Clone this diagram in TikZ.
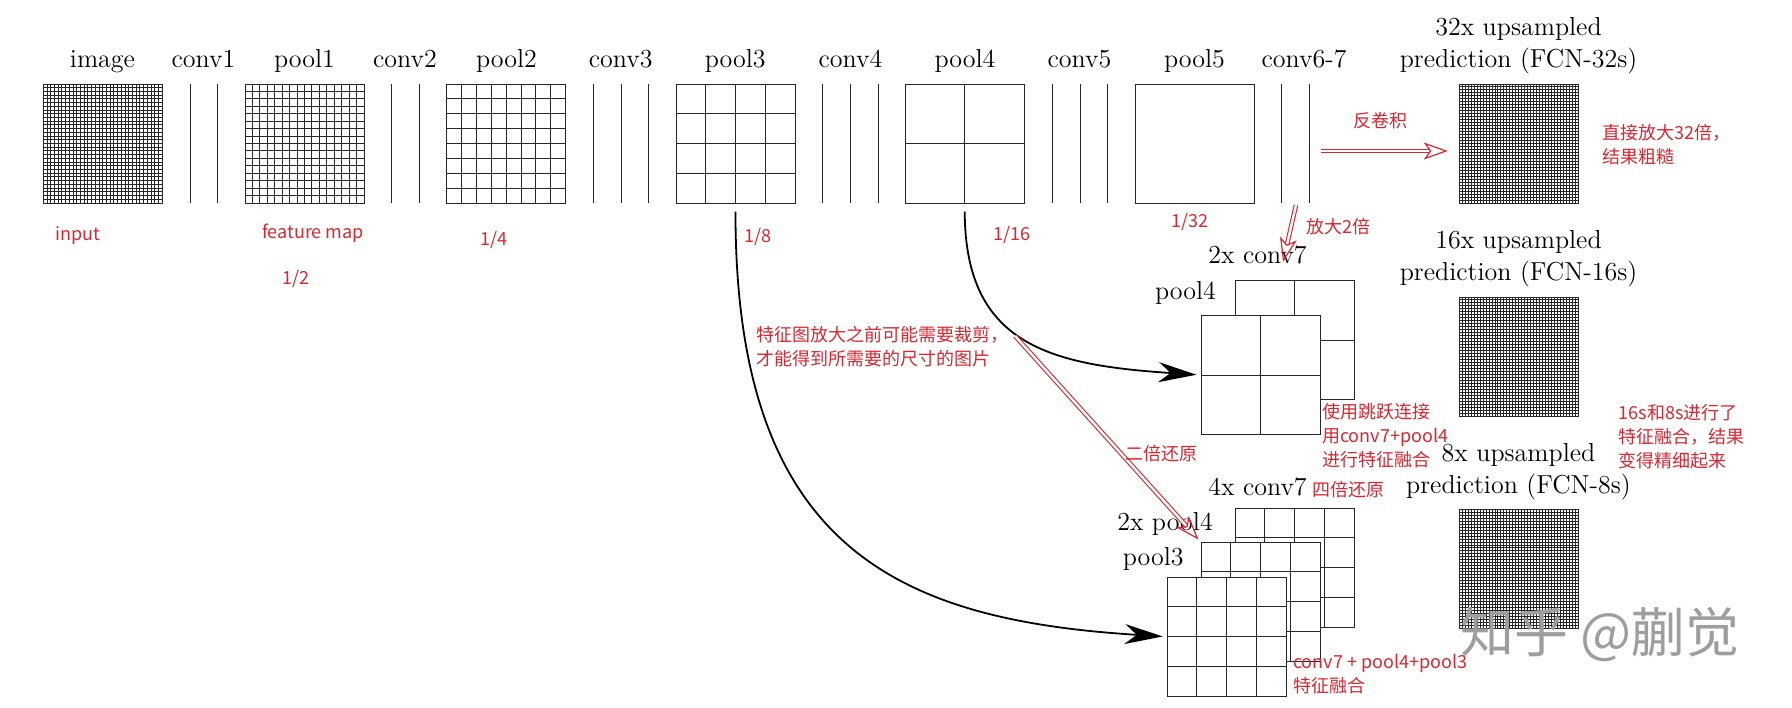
\documentclass[tikz,border=0pt]{standalone}
\usepackage{fontspec}
\newfontfamily\cjk{Noto Sans CJK SC}
\usetikzlibrary{arrows.meta,calc}
\definecolor{anno}{RGB}{218,38,48}
\begin{document}
\begin{tikzpicture}[x=0.5pt,y=-0.5pt,
  lbl/.style={font=\fontsize{13}{15}\selectfont, anchor=base, inner sep=0pt},
  note/.style={font=\cjk\fontsize{9}{12}\selectfont, text=anno, inner sep=0pt, align=left},
  fmap/.style={draw=black!85, line width=0.5pt, fill=white, minimum width=59.5pt, minimum height=59.5pt, inner sep=0pt,
    path picture={
      \foreach \k in {1,...,#1}{
        \draw[black!85, line width=0.5pt]
          ($(path picture bounding box.north west)!{\k/#1}!(path picture bounding box.north east)$) --
          ($(path picture bounding box.south west)!{\k/#1}!(path picture bounding box.south east)$);
        \draw[black!85, line width=0.5pt]
          ($(path picture bounding box.north west)!{\k/#1}!(path picture bounding box.south west)$) --
          ($(path picture bounding box.north east)!{\k/#1}!(path picture bounding box.south east)$);
      }}},
  convline/.style={line width=0.5pt, black!85},
  skipcurve/.style={line width=0.9pt, -{Stealth[length=19pt,width=10pt,inset=6pt]}},
  dblarrow/.style={draw=anno, double=white, double distance=1.2pt, line width=0.55pt,
    -{Stealth[open, length=12pt, width=8.5pt, inset=3pt, line width=0.6pt]}},
]
\useasboundingbox (0,0) rectangle (1792,707);

% ---------- top row labels ----------
\node[lbl] (l-image) at (102.5,67.5) {image};
\node[lbl] (l-conv1) at (203.5,67.5) {conv1};
\node[lbl] (l-pool1) at (304.5,67.5) {pool1};
\node[lbl] (l-conv2) at (405,67.5) {conv2};
\node[lbl] (l-pool2) at (506.5,67.5) {pool2};
\node[lbl] (l-conv3) at (620.7,67.5) {conv3};
\node[lbl] (l-pool3) at (735.3,67.5) {pool3};
\node[lbl] (l-conv4) at (850.5,67.5) {conv4};
\node[lbl] (l-pool4) at (965,67.5) {pool4};
\node[lbl] (l-conv5) at (1079.5,67.5) {conv5};
\node[lbl] (l-pool5) at (1194.5,67.5) {pool5};
\node[lbl] (l-conv67) at (1304,67.5) {conv6-7};
\node[lbl] (l-32a) at (1518.5,35) {32x upsampled};
\node[lbl] (l-32b) at (1518.5,67.5) {prediction (FCN-32s)};

% ---------- top row feature maps ----------
\node[fmap=32] (img)   at (102.8,143.5) {};
\node[fmap=16] (pool1) at (304.5,143.5) {};
\node[fmap=8]  (pool2) at (506.2,143.5) {};
\node[fmap=4]  (pool3) at (735.5,143.5) {};
\node[fmap=2]  (pool4) at (964.7,143.5) {};
\node[fmap=1]  (pool5) at (1194.5,143.5) {};
\node[fmap=40] (p32)   at (1518.8,143.5) {};

% conv layers
\foreach \x in {190,217.3,391.7,419,593.3,621,648.3,822.7,850.7,878,1052.3,1080,1107.3,1281.7,1309}
  \draw[convline] (\x,84) -- (\x,203);

% ---------- 16s / 8s predictions ----------
\node[lbl] (l-16a) at (1518.5,248.3) {16x upsampled};
\node[lbl] (l-16b) at (1518.5,280.5) {prediction (FCN-16s)};
\node[fmap=40] (p16) at (1518.8,356.5) {};
\node[lbl] (l-8a) at (1518.5,461) {8x upsampled};
\node[lbl] (l-8b) at (1518.5,493.3) {prediction (FCN-8s)};
\node[fmap=40] (p8) at (1518.8,568.8) {};

% ---------- 2x conv7 + pool4 ----------
\node[lbl] (l-c7x2) at (1257.5,263.3) {2x conv7};
\node[lbl] (l-p4f) at (1185.5,299.3) {pool4};
\node[fmap=2] (c7x2) at (1294.5,340) {};
\node[fmap=2] (p4f)  at (1260.5,375) {};

% ---------- 4x conv7 + 2x pool4 + pool3 ----------
\node[lbl] (l-c7x4) at (1257.5,495) {4x conv7};
\node[lbl] (l-p4x2) at (1165,530) {2x pool4};
\node[lbl] (l-p3f) at (1153.3,565) {pool3};
\node[fmap=4] (c7x4) at (1294.5,567.5) {};
\node[fmap=4] (p4x2) at (1260.5,601.7) {};
\node[fmap=4] (p3f)  at (1226.7,636.7) {};

% ---------- skip connections ----------
\draw[skipcurve, shorten <=4pt, shorten >=2pt] (pool3.south) .. controls (735,550) and (900,620) .. (p3f.west);
\draw[skipcurve, shorten <=4pt, shorten >=2pt] (pool4.south) .. controls (965,345) and (1050,365) .. (p4f.west);

% ---------- red arrows ----------
\coordinate (d0) at (1321,151);
\draw[dblarrow, shorten >=5.5pt] (d0) -- (d0 -| p32.west);
\coordinate (u0) at (1296,205);
\coordinate (u1) at (1283,262);
\draw[dblarrow] (u0) -- (u1);
\coordinate (r0) at (1015,336);
\draw[dblarrow, shorten >=1.5pt] (r0) -- (p4x2.north west);

% ---------- red notes ----------
\node[note] (n-input) at (78,236) {input};
\node[note] (n-fmap) at (313,233) {feature map};
\node[note] (n-half) at (296,279) {1/2};
\node[note] (n-q) at (494,240) {1/4};
\node[note] (n-8) at (758,237) {1/8};
\node[note] (n-16) at (1012,235) {1/16};
\node[note] (n-32) at (1190,222) {1/32};
\node[note] (n-deconv) at (1380,121) {反卷积};
\node[note, anchor=west] (n-direct) at (1601.7,145) {直接放大32倍，\\结果粗糙};
\node[note, anchor=west] (n-up2) at (1306,226.7) {放大2倍};
\node[note, anchor=west] (n-crop) at (756,346.7) {特征图放大之前可能需要裁剪，\\才能得到所需要的尺寸的图片};
\node[note, anchor=west] (n-skip) at (1321.7,436) {使用跳跃连接\\用conv7+pool4\\进行特征融合};
\node[note, anchor=west] (n-two) at (1125,453.3) {二倍还原};
\node[note, anchor=west] (n-four) at (1311.7,490) {四倍还原};
\node[note, anchor=west] (n-fuse) at (1292.7,674.2) {conv7 + pool4+pool3\\特征融合};
\node[note, anchor=west] (n-fine) at (1618.3,436.4) {16s和8s进行了\\特征融合，结果\\变得精细起来};

% ---------- watermark ----------
\node[font=\cjk\fontsize{27}{27}\selectfont, text=black!38, anchor=west, inner sep=0pt] (wm) at (1460,634) {知乎 @蒯觉};
\end{tikzpicture}
\end{document}
